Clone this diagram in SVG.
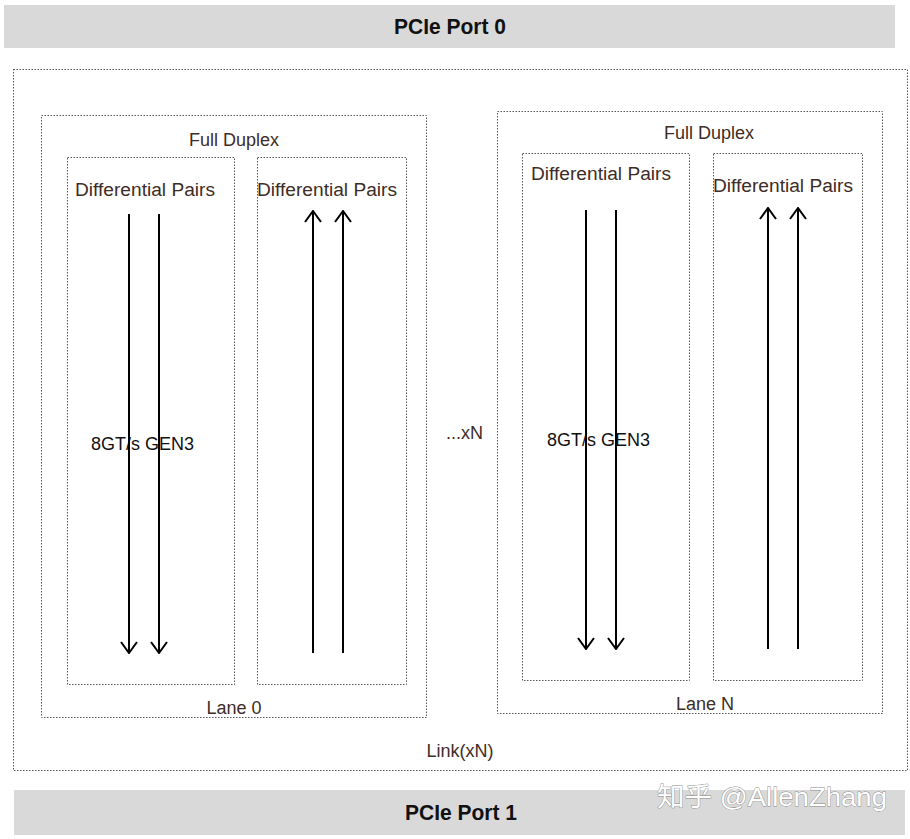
<svg xmlns="http://www.w3.org/2000/svg" width="910" height="839" viewBox="0 0 910 839">
<style>
.bar{fill:#d9d9d9}
.port{font-family:"Liberation Sans",Arial,sans-serif;font-weight:bold;font-size:22px;fill:#111;text-anchor:middle}
.box{fill:none;stroke:#555;stroke-width:1;stroke-dasharray:1.5 1.5}
.lbl{font-family:"Liberation Sans",Arial,sans-serif;font-size:18px;fill:#3e2c26}
.mid{text-anchor:middle}
.wire{stroke:#000;stroke-width:2;fill:none}
.gen{font-family:"Liberation Sans",Arial,sans-serif;font-size:18px;fill:#111}
.wm{font-family:"Liberation Sans","Noto Sans CJK SC",sans-serif;font-size:26px;fill:#fff;stroke:#8a8a8a;stroke-width:0.8;paint-order:stroke}
</style>
<defs>
<marker id="arr" viewBox="0 0 14 20" refX="13" refY="10" markerWidth="14" markerHeight="20" markerUnits="userSpaceOnUse" orient="auto">
<polyline points="2,2 13,10 2,18" fill="none" stroke="#000" stroke-width="2"/>
</marker>
</defs>
<rect width="910" height="839" fill="#fff"/>
<g id="port0">
<rect class="bar" x="4" y="5" width="891" height="43"/>
<text class="port" x="450" y="34" textLength="112" lengthAdjust="spacingAndGlyphs">PCIe Port 0</text>
</g>
<g id="link">
<rect class="box" x="13.5" y="69.5" width="894" height="701"/>
<text class="lbl mid" x="460" y="757">Link(xN)</text>
<text class="lbl" x="446" y="439" font-size="17">...xN</text>
</g>
<g id="lane0">
<rect class="box" x="41.5" y="115.5" width="385" height="602"/>
<text class="lbl mid" x="234" y="146">Full Duplex</text>
<text class="lbl mid" x="234" y="714">Lane 0</text>
<g id="lane0-tx">
<rect class="box" x="67.5" y="157.5" width="167" height="527"/>
<text class="lbl" x="75" y="196" textLength="140" lengthAdjust="spacingAndGlyphs">Differential Pairs</text>
<text class="gen" x="91" y="450">8GT/s GEN3</text>
</g>
<g id="lane0-rx">
<rect class="box" x="257.5" y="157.5" width="149" height="527"/>
<text class="lbl" x="257" y="196" textLength="140" lengthAdjust="spacingAndGlyphs">Differential Pairs</text>
</g>
</g>
<g id="laneN">
<rect class="box" x="497.5" y="111.5" width="385" height="602"/>
<text class="lbl mid" x="709" y="139">Full Duplex</text>
<text class="lbl mid" x="705" y="710">Lane N</text>
<g id="laneN-tx">
<rect class="box" x="522.5" y="153.5" width="167" height="527"/>
<text class="lbl" x="531" y="180" textLength="140" lengthAdjust="spacingAndGlyphs">Differential Pairs</text>
<text class="gen" x="547" y="446">8GT/s GEN3</text>
</g>
<g id="laneN-rx">
<rect class="box" x="713.5" y="153.5" width="149" height="527"/>
<text class="lbl" x="713" y="192" textLength="140" lengthAdjust="spacingAndGlyphs">Differential Pairs</text>
</g>
</g>
<g id="connectors">
<line class="wire" x1="129" y1="214" x2="129" y2="653" marker-end="url(#arr)"/>
<line class="wire" x1="159" y1="214" x2="159" y2="653" marker-end="url(#arr)"/>
<line class="wire" x1="313" y1="653" x2="313" y2="211" marker-end="url(#arr)"/>
<line class="wire" x1="343" y1="653" x2="343" y2="211" marker-end="url(#arr)"/>
<line class="wire" x1="586" y1="210" x2="586" y2="649" marker-end="url(#arr)"/>
<line class="wire" x1="616" y1="210" x2="616" y2="649" marker-end="url(#arr)"/>
<line class="wire" x1="768" y1="649" x2="768" y2="208" marker-end="url(#arr)"/>
<line class="wire" x1="798" y1="649" x2="798" y2="208" marker-end="url(#arr)"/>
</g>
<g id="port1">
<rect class="bar" x="14" y="790" width="891" height="45"/>
<text class="port" x="461" y="820" textLength="112" lengthAdjust="spacingAndGlyphs">PCIe Port 1</text>
</g>
<text class="wm" x="657" y="806" textLength="230" lengthAdjust="spacingAndGlyphs">知乎 @AllenZhang</text>
</svg>
